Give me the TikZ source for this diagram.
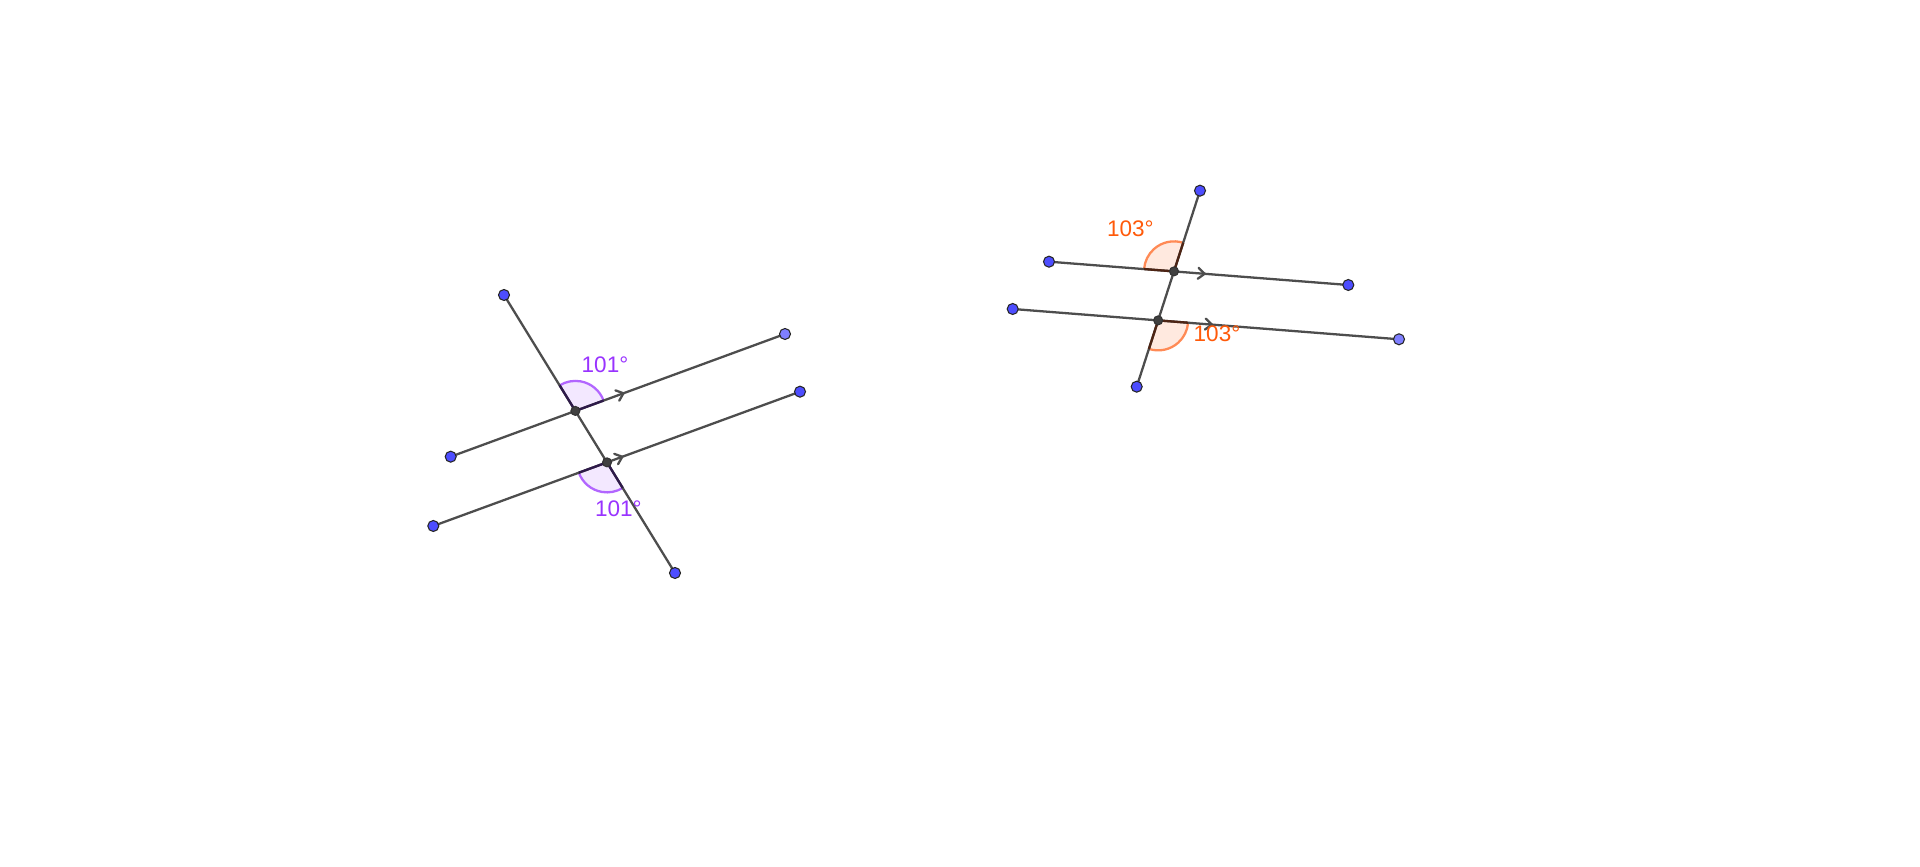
\documentclass[tikz,border=0pt]{standalone}
\usepackage{fontspec}
\setmainfont{Liberation Sans}
\usetikzlibrary{calc,angles,decorations.markings}
\definecolor{linegray}{HTML}{4D4D4D}
\definecolor{ptblue}{HTML}{4D4DFF}
\definecolor{ptlight}{HTML}{7F7FFF}
\definecolor{ptdark}{HTML}{404040}
\definecolor{purptext}{HTML}{9933FF}
\definecolor{purparc}{HTML}{B266FF}
\definecolor{purpfill}{HTML}{F3E8FF}
\definecolor{purpdark}{HTML}{2E1A4A}
\definecolor{orgtext}{HTML}{FF5A0A}
\definecolor{orgarc}{HTML}{FF8A55}
\definecolor{orgfill}{HTML}{FFE9DF}
\definecolor{orgdark}{HTML}{4D2414}
\begin{document}
\begin{tikzpicture}[x=0.01cm,y=0.01cm,
  seg/.style={draw=linegray,line width=0.65pt},
  parseg/.style={seg,postaction={decorate},decoration={markings,
     mark=at position 0.5 with {\draw[linegray,line width=0.65pt,line cap=round,line join=miter]
        (-0.005cm,0.055cm) -- (0.06cm,0) -- (-0.005cm,-0.055cm);}}},
  bluept/.style={circle,fill=ptblue,draw=black!85,line width=0.3pt,minimum size=0.11cm,inner sep=0pt},
  lightpt/.style={bluept,fill=ptlight},
  crosspt/.style={circle,fill=ptdark,draw=black!80,line width=0.3pt,minimum size=0.09cm,inner sep=0pt},
  purpangle/.style={draw=purparc,fill=purpfill,angle radius=0.3cm,line width=0.65pt},
  organgle/.style={draw=orgarc,fill=orgfill,angle radius=0.3cm,line width=0.65pt},
  purplabel/.style={text=purptext,font=\fontsize{6.4}{7}\selectfont,inner sep=0pt},
  orglabel/.style={text=orgtext,font=\fontsize{6.4}{7}\selectfont,inner sep=0pt}]
\fill[white] (0,0) rectangle (1920,867);
\useasboundingbox (0,0) rectangle (1920,867);

% ---------- left figure ----------
\coordinate (T1) at (504,572);
\coordinate (T2) at (675,294);
\coordinate (A1) at (450.7,410.3);
\coordinate (B1) at (785,533);
\coordinate (A2) at (433.3,341);
\coordinate (B2) at (800,475.3);
\coordinate (P1) at (intersection of A1--B1 and T1--T2);
\coordinate (P2) at (intersection of A2--B2 and T1--T2);

% ---------- right figure ----------
\coordinate (U1) at (1200,676.3);
\coordinate (U2) at (1136.7,480.3);
\coordinate (C1) at (1049,605.3);
\coordinate (D1) at (1348.3,582);
\coordinate (C2) at (1012.7,558);
\coordinate (D2) at (1399,527.7);
\coordinate (Q1) at (intersection of C1--D1 and U1--U2);
\coordinate (Q2) at (intersection of C2--D2 and U1--U2);

% angle sectors
\pic[purpangle] {angle=B1--P1--T1};
\pic[purpangle] {angle=A2--P2--T2};
\pic[organgle] {angle=U1--Q1--C1};
\pic[organgle] {angle=U2--Q2--D2};

% segments
\draw[seg] (T1) -- (T2);
\draw[parseg] (A1) -- (B1);
\draw[parseg] (A2) -- (B2);
\draw[seg] (U1) -- (U2);
\draw[parseg] (C1) -- (D1);
\draw[parseg] (C2) -- (D2);

% angle sides
\draw[purpdark,line width=0.65pt] ($(P1)!0.3cm!(B1)$) -- (P1) -- ($(P1)!0.3cm!(T1)$);
\draw[purpdark,line width=0.65pt] ($(P2)!0.3cm!(A2)$) -- (P2) -- ($(P2)!0.3cm!(T2)$);
\draw[orgdark,line width=0.65pt] ($(Q1)!0.3cm!(U1)$) -- (Q1) -- ($(Q1)!0.3cm!(C1)$);
\draw[orgdark,line width=0.65pt] ($(Q2)!0.3cm!(U2)$) -- (Q2) -- ($(Q2)!0.3cm!(D2)$);

% labels
\node[purplabel] (la1) at (605,502.7) {101°};
\node[purplabel] (la2) at (618.3,358.3) {101°};
\node[orglabel] (lb1) at (1130.3,638) {103°};
\node[orglabel] (lb2) at (1217,533.7) {103°};

% points
\node[bluept] (nT1) at (T1) {};
\node[bluept] (nT2) at (T2) {};
\node[bluept] (nA1) at (A1) {};
\node[lightpt] (nB1) at (B1) {};
\node[bluept] (nA2) at (A2) {};
\node[bluept] (nB2) at (B2) {};
\node[crosspt] (nP1) at (P1) {};
\node[crosspt] (nP2) at (P2) {};
\node[bluept] (nU1) at (U1) {};
\node[bluept] (nU2) at (U2) {};
\node[bluept] (nC1) at (C1) {};
\node[bluept] (nD1) at (D1) {};
\node[bluept] (nC2) at (C2) {};
\node[lightpt] (nD2) at (D2) {};
\node[crosspt] (nQ1) at (Q1) {};
\node[crosspt] (nQ2) at (Q2) {};
\end{tikzpicture}
\end{document}
